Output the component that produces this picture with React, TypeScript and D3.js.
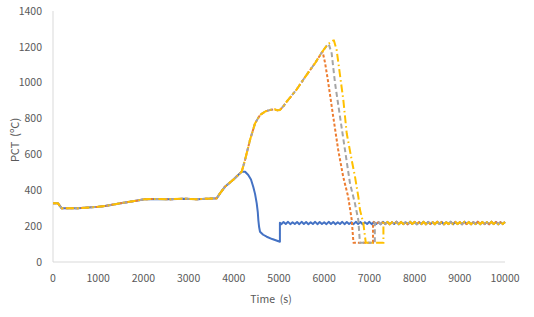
import React from "react";
import * as d3 from "d3";

const xTicks = [0, 1000, 2000, 3000, 4000, 5000, 6000, 7000, 8000, 9000, 10000];
const yTicks = [0, 200, 400, 600, 800, 1000, 1200, 1400];

// shared start (all cases)
const commonT = [0, 110, 190, 550, 1000, 1150, 1500, 1800, 2035, 2300, 2600, 2900, 3200, 3400, 3620, 3695, 3805, 4000, 4137, 4175];
const commonV = [327, 327, 300, 300, 308, 312, 328, 340, 350, 352, 350, 353, 350, 353, 355, 383, 420, 462, 495, 504];

// case 1 (blue) after peak
const blueT = [4175, 4250, 4320, 4380, 4430, 4470, 4507, 4530, 4543, 4560, 4580, 4650, 4728, 4850, 5020, 5020];
const blueV = [504, 503, 485, 460, 420, 380, 327, 280, 234, 195, 169, 152, 141, 128, 113, 219];

// shared rise for the other cases
const riseT = [4175, 4248, 4358, 4469, 4580, 4700, 4800, 4900, 4960, 5020, 5100, 5170, 5390, 5600, 5800, 5950];
const riseV = [504, 569, 680, 773, 820, 840, 848, 852, 846, 848, 870, 894, 962, 1040, 1110, 1170];

const orangeT = [5950, 5965, 6020, 6090, 6200, 6310, 6420, 6530, 6610, 6645, 6650, 7080, 7080];
const orangeV = [1170, 1172, 1110, 1000, 810, 625, 476, 364, 234, 113, 108, 108, 218];

const greyT = [5950, 6080, 6100, 6165, 6240, 6350, 6460, 6570, 6680, 6755, 6790, 7120, 7120];
const greyV = [1170, 1215, 1216, 1164, 997, 810, 625, 439, 327, 234, 108, 108, 218];

const yellowT = [5950, 6080, 6200, 6215, 6276, 6423, 6498, 6608, 6681, 6755, 6792, 6866, 6903, 6920, 7310, 7310];
const yellowV = [1170, 1215, 1236, 1236, 1182, 904, 718, 569, 476, 364, 290, 216, 141, 108, 108, 218];

// oscillating tail, samples every 50 s starting at 5050 s
const tailStart = 5050;
const tailStep = 50;
const tailV = [
  211, 223, 212, 224, 211, 222, 212, 223, 211, 224,
  212, 223, 211, 222, 212, 224, 211, 223, 212, 222,
  211, 224, 212, 223, 211, 222, 212, 224, 211, 223,
  212, 222, 211, 224, 212, 223, 211, 222, 212, 224,
  211, 223, 212, 222, 211, 224, 212, 223, 211, 222,
  212, 224, 211, 223, 212, 222, 211, 224, 212, 223,
  211, 222, 212, 224, 211, 223, 212, 222, 211, 224,
  212, 223, 211, 222, 212, 224, 211, 223, 212, 222,
  211, 224, 212, 223, 211, 222, 212, 224, 211, 223,
  212, 222, 211, 224, 212, 223, 211, 222, 212, 223,
];

type P = [number, number];
const zip = (t: number[], v: number[]): P[] => t.map((x, i) => [x, v[i]] as P);
const tail: P[] = tailV.map((v, i) => [tailStart + i * tailStep, v] as P);
const tailAfter = (t0: number) => tail.filter((p) => p[0] > t0);

const W = 534;
const H = 317;
const left = 53;
const right = 505;
const top = 11;
const bottom = 262;

export default function App() {
  const x = d3.scaleLinear().domain([0, 10000]).range([left, right]);
  const y = d3.scaleLinear().domain([0, 1400]).range([bottom, top]);
  const line = d3
    .line<P>()
    .x((d) => x(d[0]))
    .y((d) => y(d[1]));

  const common = zip(commonT, commonV);
  const rise = zip(riseT, riseV);
  const blue = [...common, ...zip(blueT, blueV).slice(1), ...tailAfter(5020)];
  const orange = [...common, ...rise.slice(1), ...zip(orangeT, orangeV).slice(1), ...tailAfter(7080)];
  const grey = [...common, ...rise.slice(1), ...zip(greyT, greyV).slice(1), ...tailAfter(7120)];
  const yellow = [...common, ...rise.slice(1), ...zip(yellowT, yellowV).slice(1), ...tailAfter(7310)];

  const font = "'Noto Sans CJK KR', 'Noto Sans', sans-serif";
  const tc = "#595959";

  return (
    <svg
      width={W}
      height={H}
      style={{ position: "absolute", left: 0, top: 0, background: "#fff" }}
      fontFamily={font}
    >
      <line x1={left} x2={left} y1={top} y2={bottom} stroke="#D9D9D9" strokeWidth={1} />
      <line x1={left} x2={right} y1={bottom} y2={bottom} stroke="#D9D9D9" strokeWidth={1} />
      {yTicks.map((t) => (
        <text key={t} x={42} y={y(t)} dy="0.35em" textAnchor="end" fontSize={10.5} fill={tc}>
          {t}
        </text>
      ))}
      {xTicks.map((t) => (
        <text key={t} x={x(t)} y={278} dy="0.35em" textAnchor="middle" fontSize={10.5} fill={tc}>
          {t}
        </text>
      ))}
      <text x={271} y={299} dy="0.35em" textAnchor="middle" fontSize={10.5} fill={tc} style={{ whiteSpace: "pre" }}>
        {"Time  (s)"}
      </text>
      <text
        transform={`translate(15,140) rotate(-90)`}
        dy="0.35em"
        textAnchor="middle"
        fontSize={11}
        fill={tc}
        style={{ whiteSpace: "pre" }}
      >
        {"PCT  (ºC)"}
      </text>
      <path d={line(blue) || ""} fill="none" stroke="#4472C4" strokeWidth={2} strokeLinejoin="round" />
      <path d={line(orange) || ""} fill="none" stroke="#ED7D31" strokeWidth={2} strokeDasharray="3,2" />
      <path d={line(grey) || ""} fill="none" stroke="#A5A5A5" strokeWidth={2} strokeDasharray="5,3" />
      <path d={line(yellow) || ""} fill="none" stroke="#FFC000" strokeWidth={2} strokeDasharray="8,3,1.5,3" />
    </svg>
  );
}
